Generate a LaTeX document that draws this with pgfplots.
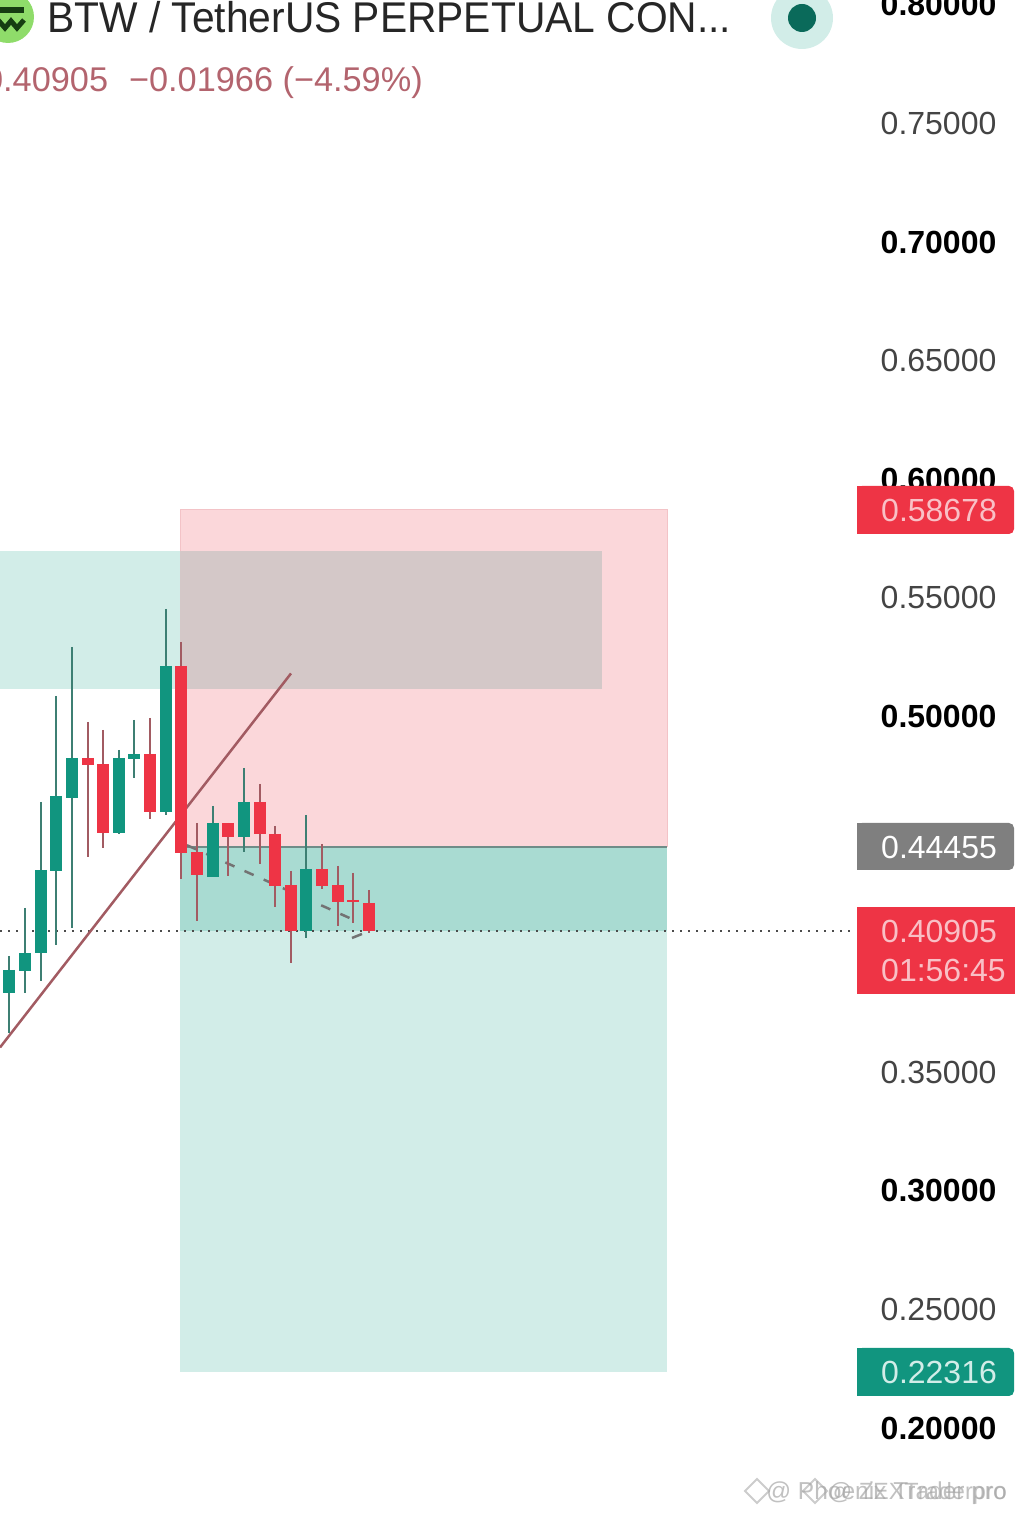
\documentclass[border=0pt]{standalone}
\usepackage{pgfplots}
\pgfplotsset{compat=1.18}
\usepackage{fontspec}
\setmainfont{Liberation Sans}
\definecolor{upg}{HTML}{11957F}
\definecolor{dnr}{HTML}{EE3445}
\definecolor{upw}{HTML}{3D7F73}
\definecolor{dnw}{HTML}{A25B62}
\definecolor{pinkz}{HTML}{FBD7DA}
\definecolor{pinkedge}{HTML}{F3C3C7}
\definecolor{greenl}{HTML}{D2EDE8}
\definecolor{greend}{HTML}{A9DBD2}
\definecolor{overl}{HTML}{D4C8C8}
\definecolor{tagg}{HTML}{7F7F7F}
\definecolor{tickc}{HTML}{444444}
\definecolor{pctc}{HTML}{B3646E}
\definecolor{logog}{HTML}{8FDC6A}
\definecolor{logod}{HTML}{163D12}
\definecolor{dotd}{HTML}{0A6A5A}
\definecolor{hline}{HTML}{6F8C88}
\definecolor{tagt}{HTML}{F9C0C6}
\newcommand{\bl}[1]{\textcolor{black}{\textbf{#1}}}
\begin{document}
\begin{tikzpicture}
\path[use as bounding box,clip] (0,0) rectangle (1015pt,1515pt);
\begin{axis}[
  at={(0,0)},anchor=south west,
  scale only axis,width=1015pt,height=1515pt,
  xmin=0,xmax=1015,ymin=0.16290,ymax=0.80161,
  axis line style={draw=none},
  xtick=\empty,
  ytick={0.2,0.25,0.3,0.35,0.4,0.45,0.5,0.55,0.6,0.65,0.7,0.75,0.8},
  yticklabels={\bl{0.20000},0.25000,\bl{0.30000},0.35000,\bl{0.40000},\bl{0.45000},\bl{0.50000},0.55000,\bl{0.60000},0.65000,\bl{0.70000},0.75000,\bl{0.80000}},
  yticklabel pos=right,
  major tick length=0pt,
  tick style={draw=none},
  yticklabel style={anchor=west,inner sep=0pt,xshift=-134.5pt,yshift=-1pt,font=\fontsize{32}{34}\selectfont,text=tickc},
  clip=true,
]
% zones
\addplot[fill=pinkz,draw=pinkedge,line width=1pt] coordinates {(180,0.58678)(667,0.58678)(667,0.44455)(180,0.44455)} -- cycle;
\addplot[fill=greend,draw=none] coordinates {(180,0.44455)(667,0.44455)(667,0.40905)(180,0.40905)} -- cycle;
\addplot[fill=greenl,draw=none] coordinates {(180,0.40905)(667,0.40905)(667,0.22316)(180,0.22316)} -- cycle;
\addplot[fill=greenl,draw=none] coordinates {(0,0.56931)(180,0.56931)(180,0.51113)(0,0.51113)} -- cycle;
\addplot[fill=overl,draw=none] coordinates {(180,0.56931)(602,0.56931)(602,0.51113)(180,0.51113)} -- cycle;
\addplot[draw=hline,line width=1.5pt] coordinates {(180,0.44455)(667,0.44455)};
% last price
\addplot[draw=black!70,line width=1.5pt,dash pattern=on 2pt off 6pt] coordinates {(0,0.40905)(853,0.40905)};
% trend lines
\addplot[draw=dnw,line width=2.5pt] coordinates {(0,0.36000)(291,0.51769)};
\addplot[draw=black!55,line width=2.5pt,dash pattern=on 10pt off 11pt] coordinates {(187,0.44526)(354,0.41375)};
\addplot[draw=black!55,line width=2.5pt] coordinates {(352,0.40616)(362,0.40785)};
% wicks
\addplot[draw=upw,line width=2.5pt,unbounded coords=jump] coordinates {
(9,0.39857)(9,0.36611)(9,nan)
(25,0.41881)(25,0.38297)(25,nan)
(41,0.46349)(41,0.38803)(41,nan)
(56,0.50818)(56,0.40321)(56,nan)
(72,0.52884)(72,0.41037)(72,nan)
(119,0.48542)(119,0.45000)(119,nan)
(134,0.49806)(134,0.47361)(134,nan)
(166,0.54486)(166,0.45801)(166,nan)
(213,0.46181)(213,0.43187)(213,nan)
(244,0.47783)(244,0.44241)(244,nan)
(306,0.45801)(306,0.40616)
};
\addplot[draw=dnw,line width=2.5pt,unbounded coords=jump] coordinates {
(88,0.49722)(88,0.44031)(88,nan)
(103,0.49385)(103,0.44410)(103,nan)
(150,0.49891)(150,0.45633)(150,nan)
(181,0.53095)(181,0.43103)(181,nan)
(197,0.45464)(197,0.41332)(197,nan)
(228,0.45464)(228,0.43230)(228,nan)
(260,0.47108)(260,0.43736)(260,nan)
(275,0.45338)(275,0.41923)(275,nan)
(291,0.43440)(291,0.39562)(291,nan)
(322,0.44579)(322,0.42682)(322,nan)
(338,0.43651)(338,0.41122)(338,nan)
(353,0.43356)(353,0.41248)(353,nan)
(369,0.42639)(369,0.40827)
};
% bodies
\addplot[draw=upg,line width=12pt,unbounded coords=jump] coordinates {
(9,0.39267)(9,0.38297)(9,nan)
(25,0.39983)(25,0.39225)(25,nan)
(41,0.43483)(41,0.39983)(41,nan)
(56,0.46602)(56,0.43440)(56,nan)
(72,0.48204)(72,0.46518)(72,nan)
(119,0.48204)(119,0.45042)(119,nan)
(134,0.48373)(134,0.48162)(134,nan)
(166,0.52083)(166,0.45928)(166,nan)
(213,0.45464)(213,0.43187)(213,nan)
(244,0.46349)(244,0.44874)(244,nan)
(306,0.43525)(306,0.40905)
};
\addplot[draw=dnr,line width=12pt,unbounded coords=jump] coordinates {
(88,0.48204)(88,0.47909)(88,nan)
(103,0.47951)(103,0.45042)(103,nan)
(150,0.48373)(150,0.45928)(150,nan)
(181,0.52083)(181,0.44199)(181,nan)
(197,0.44241)(197,0.43272)(197,nan)
(228,0.45464)(228,0.44874)(228,nan)
(260,0.46349)(260,0.45000)(260,nan)
(275,0.45000)(275,0.42808)(275,nan)
(291,0.42850)(291,0.40905)(291,nan)
(322,0.43525)(322,0.42808)(322,nan)
(338,0.42850)(338,0.42133)(338,nan)
(353,0.42218)(353,0.42133)(353,nan)
(369,0.42091)(369,0.40905)
};
\end{axis}
\begin{scope}[x=1pt,y=-1pt,yshift=1515pt]
% header
\fill[logog] (8,17) circle (26);
\fill[logod] (-2,7) rectangle (24,13);
\draw[logod,line width=5pt,line join=miter] (-2,20)--(5,28)--(11,21)--(17,28)--(24,20);
\node[anchor=base west,inner sep=0pt,font=\fontsize{43}{45}\selectfont,text=black!85] at (47,33) {\scalebox{0.948}[1]{BTW / TetherUS PERPETUAL CON...}};
\node[anchor=base east,inner sep=0pt,font=\fontsize{34.3}{36}\selectfont,text=pctc] at (423,92) {0.40905\hspace{21pt}−0.01966 (−4.59\%)};
\fill[greenl] (802,18) circle (31);
\fill[dotd] (802,18) circle (14);
% price tags
\fill[dnr,rounded corners=5pt] (857,486) -- (1014,486) -- (1014,534) -- (857,534) -- cycle;
\fill[dnr] (857,486) rectangle (870,534);
\node[anchor=base west,inner sep=0pt,font=\fontsize{32}{34}\selectfont,text=tagt] at (881,522) {0.58678};
\fill[tagg,rounded corners=5pt] (857,823) -- (1014,823) -- (1014,870) -- (857,870) -- cycle;
\fill[tagg] (857,823) rectangle (870,870);
\node[anchor=base west,inner sep=0pt,font=\fontsize{32}{34}\selectfont,text=white] at (881,859) {0.44455};
\fill[dnr] (857,907) rectangle (1015,994);
\node[anchor=base west,inner sep=0pt,font=\fontsize{32}{34}\selectfont,text=tagt] at (881,943) {0.40905};
\node[anchor=base west,inner sep=0pt,font=\fontsize{32}{34}\selectfont,text=tagt] at (881,982) {01:56:45};
\fill[upg,rounded corners=5pt] (857,1348) -- (1014,1348) -- (1014,1396) -- (857,1396) -- cycle;
\fill[upg] (857,1348) rectangle (870,1396);
\node[anchor=base west,inner sep=0pt,font=\fontsize{32}{34}\selectfont,text=greenl] at (881,1384) {0.22316};
% watermark
\draw[black!20,line width=2pt] (757,1479)--(769,1491)--(757,1503)--(745,1491)--cycle;
\draw[black!20,line width=2pt] (815,1479)--(827,1491)--(815,1503)--(803,1491)--cycle;
\node[anchor=base east,inner sep=0pt,font=\fontsize{24.5}{27}\selectfont,text=black!35,opacity=.7] at (1007,1499) {@ Phoenix Trader pro};
\node[anchor=base east,inner sep=0pt,font=\fontsize{23.5}{27}\selectfont,text=black!35,opacity=.7] at (1007,1499) {@ ZEXTraderpro};
\end{scope}
\end{tikzpicture}
\end{document}
